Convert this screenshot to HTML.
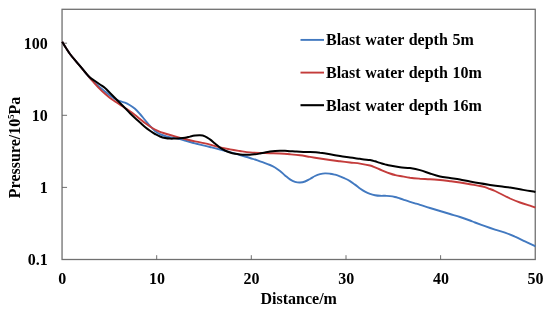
<!DOCTYPE html><html><head><meta charset="utf-8"><title>Pressure vs Distance</title>
<style>html,body{margin:0;padding:0;background:#fff}svg{display:block}text{font-family:"Liberation Serif","DejaVu Serif",serif;font-weight:bold;font-size:16px;fill:#000}</style></head><body>
<svg width="550" height="312" viewBox="0 0 550 312">
<rect width="550" height="312" fill="#fff"/>
<rect x="62.05" y="9.3" width="473.2" height="250.2" fill="none" stroke="#707070" stroke-width="1.3"/>
<line x1="62.05" y1="43.2" x2="67.05" y2="43.2" stroke="#606060" stroke-width="0.9"/>
<line x1="62.05" y1="115.3" x2="67.05" y2="115.3" stroke="#606060" stroke-width="0.9"/>
<line x1="62.05" y1="187.4" x2="67.05" y2="187.4" stroke="#606060" stroke-width="0.9"/>
<line x1="156.7" y1="259.5" x2="156.7" y2="255.2" stroke="#606060" stroke-width="0.9"/>
<line x1="251.3" y1="259.5" x2="251.3" y2="255.2" stroke="#606060" stroke-width="0.9"/>
<line x1="346.0" y1="259.5" x2="346.0" y2="255.2" stroke="#606060" stroke-width="0.9"/>
<line x1="440.6" y1="259.5" x2="440.6" y2="255.2" stroke="#606060" stroke-width="0.9"/>
<path d="M62.2,41.8C62.8,42.8 64.7,46.0 66.0,48.0C67.3,50.0 68.5,52.0 70.0,54.0C71.5,56.0 73.3,58.2 75.0,60.2C76.7,62.2 78.3,64.0 80.0,66.0C81.7,68.0 83.3,70.2 85.0,72.2C86.7,74.2 88.3,76.2 90.0,78.0C91.7,79.8 93.3,81.4 95.0,83.0C96.7,84.6 98.3,86.1 100.0,87.5C101.7,88.9 103.3,90.2 105.0,91.5C106.7,92.8 108.3,94.2 110.0,95.5C111.7,96.8 113.3,98.0 115.0,99.0C116.7,100.0 118.3,100.6 120.0,101.2C121.7,101.8 123.3,101.9 125.0,102.6C126.7,103.3 128.3,104.2 130.0,105.2C131.7,106.2 133.3,107.3 135.0,108.8C136.7,110.3 138.3,112.1 140.0,114.0C141.7,115.9 143.3,118.0 145.0,120.0C146.7,122.0 148.3,124.2 150.0,126.0C151.7,127.8 153.3,129.6 155.0,131.0C156.7,132.4 158.3,133.4 160.0,134.2C161.7,135.0 163.3,135.5 165.0,136.0C166.7,136.5 168.3,136.8 170.0,137.2C171.7,137.5 173.3,137.8 175.0,138.1C176.7,138.4 178.3,138.7 180.0,139.1C181.7,139.5 183.3,140.0 185.0,140.5C186.7,141.0 188.3,141.5 190.0,142.0C191.7,142.5 193.3,143.0 195.0,143.4C196.7,143.8 197.5,144.0 200.0,144.6C202.5,145.2 206.7,146.2 210.0,147.0C213.3,147.8 216.7,148.6 220.0,149.5C223.3,150.4 226.7,151.3 230.0,152.2C233.3,153.1 236.7,154.0 240.0,155.0C243.3,156.0 247.5,157.2 250.0,158.0C252.5,158.8 253.3,158.9 255.0,159.5C256.7,160.1 258.3,160.7 260.0,161.3C261.7,161.9 263.3,162.5 265.0,163.1C266.7,163.7 268.3,164.3 270.0,165.0C271.7,165.7 273.3,166.5 275.0,167.5C276.7,168.5 278.3,169.7 280.0,171.0C281.7,172.3 283.3,174.0 285.0,175.4C286.7,176.8 288.3,178.3 290.0,179.4C291.7,180.5 293.3,181.3 295.0,181.8C296.7,182.3 298.3,182.6 300.0,182.5C301.7,182.4 303.3,182.1 305.0,181.5C306.7,180.9 308.3,179.9 310.0,179.0C311.7,178.1 313.3,176.8 315.0,176.0C316.7,175.2 318.3,174.6 320.0,174.2C321.7,173.8 323.3,173.5 325.0,173.4C326.7,173.3 328.3,173.5 330.0,173.7C331.7,173.9 333.3,174.3 335.0,174.7C336.7,175.1 338.3,175.7 340.0,176.3C341.7,176.9 343.3,177.7 345.0,178.5C346.7,179.3 348.3,180.1 350.0,181.1C351.7,182.1 353.3,183.4 355.0,184.6C356.7,185.8 358.3,187.3 360.0,188.5C361.7,189.7 363.3,190.8 365.0,191.7C366.7,192.6 368.3,193.3 370.0,193.9C371.7,194.5 373.3,194.9 375.0,195.2C376.7,195.5 378.3,195.7 380.0,195.8C381.7,195.9 383.3,195.8 385.0,195.8C386.7,195.9 388.3,195.9 390.0,196.1C391.7,196.3 393.3,196.6 395.0,197.0C396.7,197.4 398.3,198.0 400.0,198.5C401.7,199.0 403.3,199.6 405.0,200.2C406.7,200.8 408.3,201.3 410.0,201.8C411.7,202.3 413.3,202.8 415.0,203.3C416.7,203.8 417.5,204.0 420.0,204.8C422.5,205.6 426.7,207.0 430.0,208.0C433.3,209.0 436.7,210.0 440.0,211.0C443.3,212.0 446.7,213.0 450.0,214.0C453.3,215.0 456.7,215.9 460.0,217.0C463.3,218.1 467.5,219.6 470.0,220.5C472.5,221.4 472.5,221.6 475.0,222.5C477.5,223.4 481.7,224.9 485.0,226.1C488.3,227.3 491.7,228.5 495.0,229.6C498.3,230.7 501.7,231.5 505.0,232.7C508.3,233.9 511.7,235.2 515.0,236.7C518.3,238.1 522.0,240.0 525.0,241.4C528.0,242.8 531.3,244.4 533.0,245.2C534.7,246.0 535.0,246.2 535.4,246.4" fill="none" stroke="#4279c0" stroke-width="1.9" stroke-linejoin="round" stroke-linecap="butt"/>
<path d="M62.2,41.8C62.8,42.8 64.7,46.0 66.0,48.0C67.3,50.0 68.5,52.0 70.0,54.0C71.5,56.0 73.3,58.2 75.0,60.2C76.7,62.2 78.3,64.0 80.0,66.0C81.7,68.0 83.3,70.2 85.0,72.2C86.7,74.2 88.3,76.1 90.0,78.0C91.7,79.9 93.3,81.9 95.0,83.8C96.7,85.7 98.3,87.5 100.0,89.2C101.7,90.9 103.3,92.3 105.0,93.8C106.7,95.3 108.3,96.7 110.0,98.0C111.7,99.3 113.3,100.3 115.0,101.4C116.7,102.5 118.3,103.5 120.0,104.6C121.7,105.7 123.3,106.9 125.0,108.0C126.7,109.1 128.3,110.0 130.0,111.2C131.7,112.4 133.3,113.7 135.0,115.0C136.7,116.3 138.3,117.7 140.0,119.0C141.7,120.3 143.3,121.8 145.0,123.0C146.7,124.2 148.3,125.4 150.0,126.5C151.7,127.6 153.3,128.6 155.0,129.5C156.7,130.4 158.3,131.1 160.0,131.8C161.7,132.5 162.5,132.7 165.0,133.5C167.5,134.3 171.7,135.5 175.0,136.4C178.3,137.3 181.7,138.2 185.0,139.0C188.3,139.8 191.7,140.7 195.0,141.4C198.3,142.1 202.5,142.9 205.0,143.4C207.5,143.9 207.5,143.9 210.0,144.6C212.5,145.3 216.7,146.6 220.0,147.4C223.3,148.2 226.7,148.8 230.0,149.4C233.3,150.0 236.7,150.5 240.0,151.0C243.3,151.5 246.7,152.1 250.0,152.4C253.3,152.7 256.7,152.8 260.0,152.9C263.3,153.0 266.7,153.1 270.0,153.2C273.3,153.3 276.7,153.3 280.0,153.5C283.3,153.7 286.7,154.0 290.0,154.3C293.3,154.6 296.7,154.9 300.0,155.3C303.3,155.7 306.7,156.4 310.0,156.9C313.3,157.4 316.7,158.0 320.0,158.5C323.3,159.0 326.7,159.5 330.0,160.0C333.3,160.5 336.7,160.9 340.0,161.3C343.3,161.7 346.7,162.1 350.0,162.5C353.3,162.9 356.7,163.1 360.0,163.6C363.3,164.1 367.5,164.9 370.0,165.5C372.5,166.1 373.3,166.7 375.0,167.4C376.7,168.1 378.3,168.8 380.0,169.5C381.7,170.2 383.3,170.9 385.0,171.6C386.7,172.3 388.3,172.9 390.0,173.5C391.7,174.1 393.3,174.6 395.0,175.0C396.7,175.4 397.5,175.6 400.0,176.0C402.5,176.4 406.7,177.2 410.0,177.7C413.3,178.1 416.7,178.4 420.0,178.7C423.3,178.9 426.7,179.0 430.0,179.2C433.3,179.4 436.7,179.7 440.0,180.0C443.3,180.3 446.7,180.8 450.0,181.2C453.3,181.6 456.7,182.0 460.0,182.5C463.3,183.0 466.7,183.6 470.0,184.2C473.3,184.8 477.5,185.5 480.0,186.0C482.5,186.5 483.3,186.7 485.0,187.2C486.7,187.7 488.3,188.4 490.0,189.0C491.7,189.6 493.3,190.2 495.0,191.0C496.7,191.8 498.3,192.7 500.0,193.5C501.7,194.3 503.3,195.2 505.0,196.0C506.7,196.8 507.5,197.4 510.0,198.5C512.5,199.6 516.7,201.3 520.0,202.5C523.3,203.7 527.4,204.8 530.0,205.6C532.6,206.4 534.5,207.2 535.4,207.5" fill="none" stroke="#c43c3b" stroke-width="1.9" stroke-linejoin="round" stroke-linecap="butt"/>
<path d="M62.2,41.8C62.8,42.8 64.7,46.0 66.0,48.0C67.3,50.0 68.5,52.0 70.0,54.0C71.5,56.0 73.3,58.2 75.0,60.2C76.7,62.2 78.3,64.0 80.0,66.0C81.7,68.0 83.3,70.1 85.0,72.0C86.7,73.9 88.3,76.0 90.0,77.5C91.7,79.0 93.3,79.8 95.0,81.0C96.7,82.2 98.3,83.3 100.0,84.5C101.7,85.7 103.3,86.6 105.0,88.0C106.7,89.4 108.3,91.3 110.0,93.0C111.7,94.7 113.3,96.3 115.0,98.0C116.7,99.7 118.3,101.3 120.0,103.0C121.7,104.7 123.3,106.3 125.0,108.0C126.7,109.7 128.3,111.6 130.0,113.3C131.7,115.0 133.3,116.5 135.0,118.0C136.7,119.5 138.3,121.1 140.0,122.6C141.7,124.1 143.3,125.6 145.0,127.0C146.7,128.4 148.3,129.6 150.0,130.8C151.7,132.0 153.3,133.1 155.0,134.0C156.7,134.9 158.3,135.8 160.0,136.5C161.7,137.2 163.3,137.7 165.0,138.0C166.7,138.3 168.3,138.5 170.0,138.6C171.7,138.7 173.3,138.6 175.0,138.6C176.7,138.6 178.3,138.4 180.0,138.3C181.7,138.2 183.3,138.1 185.0,137.8C186.7,137.5 188.3,137.0 190.0,136.6C191.7,136.2 193.3,135.8 195.0,135.6C196.7,135.4 198.3,135.2 200.0,135.3C201.7,135.4 203.3,135.6 205.0,136.3C206.7,137.0 208.3,138.2 210.0,139.4C211.7,140.6 213.3,142.2 215.0,143.6C216.7,145.0 218.3,146.4 220.0,147.6C221.7,148.8 223.3,149.7 225.0,150.5C226.7,151.3 228.3,151.9 230.0,152.5C231.7,153.1 233.3,153.5 235.0,153.8C236.7,154.1 238.3,154.3 240.0,154.5C241.7,154.7 243.3,154.8 245.0,154.8C246.7,154.9 248.3,154.9 250.0,154.8C251.7,154.7 253.3,154.5 255.0,154.3C256.7,154.1 258.3,153.8 260.0,153.5C261.7,153.2 263.3,152.8 265.0,152.5C266.7,152.2 268.3,151.8 270.0,151.5C271.7,151.2 273.3,151.0 275.0,150.9C276.7,150.8 278.3,150.7 280.0,150.7C281.7,150.7 283.3,150.7 285.0,150.8C286.7,150.9 288.3,151.1 290.0,151.2C291.7,151.3 293.3,151.4 295.0,151.5C296.7,151.6 297.5,151.7 300.0,151.8C302.5,151.9 306.7,151.9 310.0,152.1C313.3,152.2 316.7,152.3 320.0,152.7C323.3,153.0 326.7,153.6 330.0,154.2C333.3,154.8 336.7,155.5 340.0,156.1C343.3,156.7 346.7,157.1 350.0,157.6C353.3,158.1 356.7,158.4 360.0,158.8C363.3,159.2 367.5,159.7 370.0,160.1C372.5,160.5 373.3,160.8 375.0,161.3C376.7,161.8 378.3,162.4 380.0,162.9C381.7,163.4 383.3,164.0 385.0,164.4C386.7,164.8 387.5,165.1 390.0,165.6C392.5,166.1 396.7,166.9 400.0,167.3C403.3,167.7 406.7,167.6 410.0,168.1C413.3,168.6 416.7,169.2 420.0,170.1C423.3,171.0 426.7,172.4 430.0,173.5C433.3,174.6 436.7,175.8 440.0,176.5C443.3,177.2 446.7,177.5 450.0,178.0C453.3,178.5 456.7,178.9 460.0,179.5C463.3,180.1 466.7,180.9 470.0,181.5C473.3,182.1 476.7,182.7 480.0,183.3C483.3,183.9 486.7,184.4 490.0,184.9C493.3,185.4 496.7,185.9 500.0,186.3C503.3,186.8 506.7,187.1 510.0,187.6C513.3,188.1 516.7,188.7 520.0,189.3C523.3,189.9 527.4,190.7 530.0,191.1C532.6,191.5 534.5,191.8 535.4,192.0" fill="none" stroke="#000" stroke-width="2.0" stroke-linejoin="round" stroke-linecap="butt"/>
<text x="47.7" y="48.6" text-anchor="end">100</text>
<text x="47.7" y="120.7" text-anchor="end">10</text>
<text x="47.7" y="192.8" text-anchor="end">1</text>
<text x="47.7" y="264.9" text-anchor="end">0.1</text>
<text x="62.3" y="284.4" text-anchor="middle">0</text>
<text x="157.0" y="284.4" text-anchor="middle">10</text>
<text x="251.6" y="284.4" text-anchor="middle">20</text>
<text x="346.3" y="284.4" text-anchor="middle">30</text>
<text x="440.9" y="284.4" text-anchor="middle">40</text>
<text x="535.5" y="284.4" text-anchor="middle">50</text>
<text x="298.7" y="304" text-anchor="middle">Distance/m</text>
<text transform="translate(19.8,198.2) rotate(-90)">Pressure/10<tspan font-size="8.5px" dy="-5.6">5</tspan><tspan dy="5.6">Pa</tspan></text>
<line x1="300.5" y1="39.9" x2="324" y2="39.9" stroke="#4279c0" stroke-width="1.9"/>
<text x="326" y="45.0" word-spacing="0.6">Blast water depth 5m</text>
<line x1="300.5" y1="72.6" x2="324" y2="72.6" stroke="#c43c3b" stroke-width="1.9"/>
<text x="326" y="77.6" word-spacing="0.6">Blast water depth 10m</text>
<line x1="300.5" y1="105.2" x2="324" y2="105.2" stroke="#000" stroke-width="2.1"/>
<text x="326" y="110.6" word-spacing="0.6">Blast water depth 16m</text>
</svg></body></html>
